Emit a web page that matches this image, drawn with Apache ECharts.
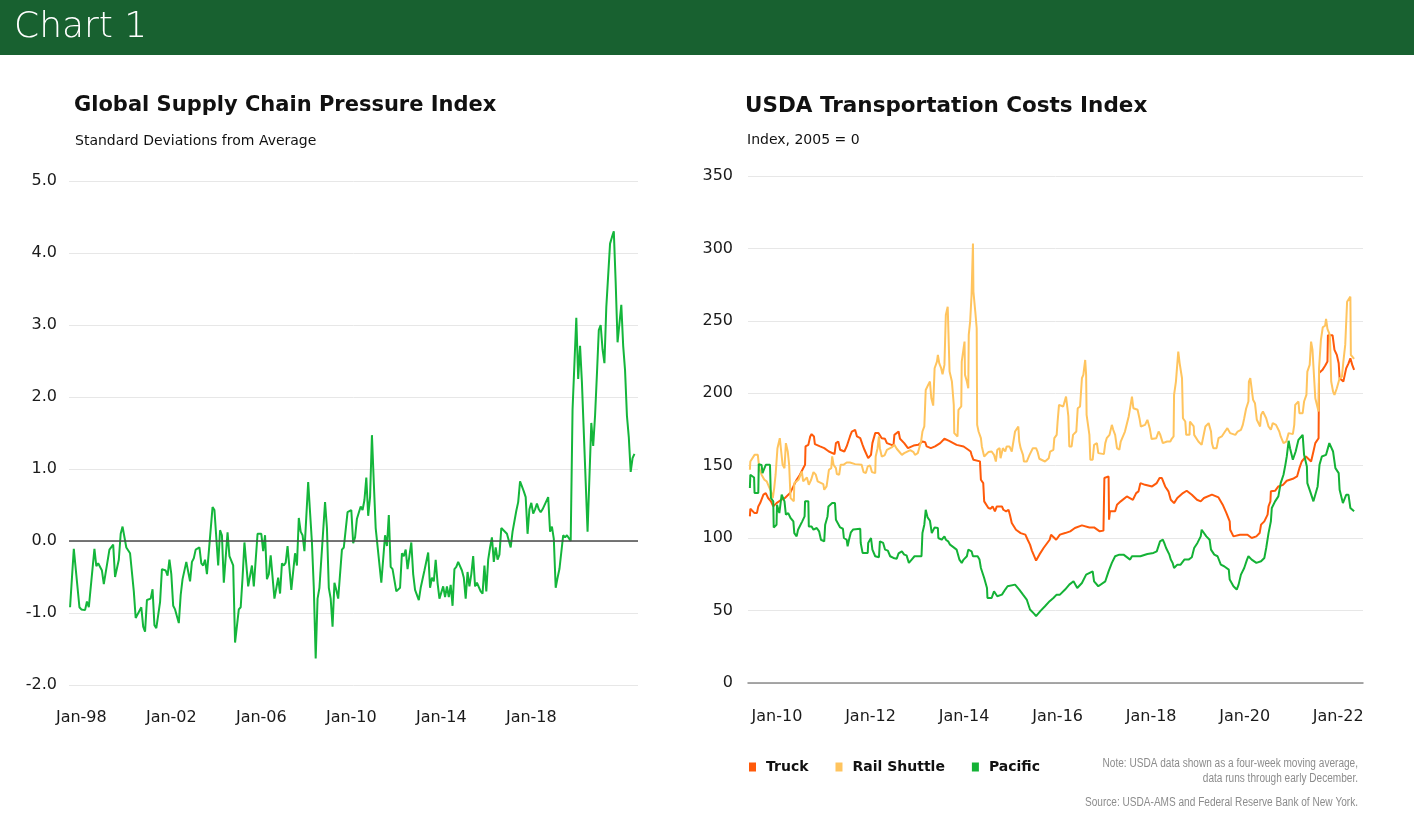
<!DOCTYPE html>
<html>
<head>
<meta charset="utf-8">
<title>Chart 1</title>
<script src="https://cdn.jsdelivr.net/npm/echarts@6/dist/echarts.min.js"></script>
<style>
  html, body { margin: 0; padding: 0; background: #fff; }
  #chart { width: 1414px; height: 813px; }
</style>
</head>
<body>
<div id="chart"></div>
<script>
// Global Supply Chain Pressure Index, monthly (std. deviations from average)
const gscpiDates = [
  "1997-07","1997-09","1997-10","1997-12","1998-01","1998-03","1998-04","1998-05","1998-08","1998-09",
  "1998-10","1998-12","1999-01","1999-04","1999-06","1999-07","1999-09","1999-10","1999-11","2000-01",
  "2000-02","2000-03","2000-05","2000-06","2000-07","2000-09","2000-10","2000-11","2000-12","2001-02",
  "2001-03","2001-04","2001-05","2001-07","2001-08","2001-10","2001-11","2001-12","2002-01","2002-02",
  "2002-03","2002-04","2002-05","2002-06","2002-07","2002-09","2002-11","2002-12","2003-01","2003-02",
  "2003-03","2003-04","2003-05","2003-06","2003-07","2003-08","2003-11","2003-12","2004-02","2004-03",
  "2004-04","2004-05","2004-07","2004-08","2004-10","2004-11","2005-01","2005-02","2005-03","2005-04",
  "2005-05","2005-06","2005-07","2005-08","2005-09","2005-11","2006-01","2006-02","2006-03","2006-04",
  "2006-05","2006-06","2006-08","2006-10","2006-11","2006-12","2007-01","2007-02","2007-03","2007-04",
  "2007-05","2007-07","2007-08","2007-09","2007-10","2007-11","2007-12","2008-02","2008-04","2008-05",
  "2008-06","2008-07","2008-08","2008-09","2008-11","2008-12","2009-01","2009-02","2009-03","2009-04",
  "2009-05","2009-06","2009-08","2009-09","2009-11","2009-12","2010-01","2010-02","2010-03","2010-04",
  "2010-05","2010-06","2010-07","2010-08","2010-09","2010-10","2010-11","2010-12","2011-01","2011-02",
  "2011-03","2011-05","2011-07","2011-08","2011-09","2011-10","2011-11","2012-01","2012-03","2012-04",
  "2012-05","2012-06","2012-07","2012-09","2012-10","2012-11","2013-01","2013-02","2013-03","2013-04",
  "2013-06","2013-07","2013-08","2013-09","2013-10","2013-11","2013-12","2014-02","2014-03","2014-04",
  "2014-05","2014-06","2014-07","2014-08","2014-09","2014-10","2014-12","2015-01","2015-02","2015-03",
  "2015-04","2015-05","2015-06","2015-07","2015-08","2015-10","2015-11","2015-12","2016-01","2016-02",
  "2016-03","2016-04","2016-05","2016-06","2016-07","2016-08","2016-09","2016-10","2016-12","2017-01",
  "2017-02","2017-03","2017-05","2017-06","2017-07","2017-08","2017-09","2017-10","2017-11","2017-12",
  "2018-01","2018-02","2018-03","2018-04","2018-05","2018-06","2018-07","2018-08","2018-10","2018-11",
  "2018-12","2019-01","2019-02","2019-03","2019-04","2019-06","2019-07","2019-08","2019-09","2019-10",
  "2019-11","2020-01","2020-02","2020-03","2020-04","2020-07","2020-09","2020-10","2020-11","2020-12",
  "2021-01","2021-02","2021-03","2021-04","2021-05","2021-06","2021-07","2021-08","2021-09","2021-10",
  "2021-11","2021-12","2022-01","2022-02","2022-03","2022-04","2022-05","2022-06","2022-07","2022-08"
];
const gscpiValues = [
  -0.92,-0.11,-0.13,-0.92,-0.95,-0.96,-0.84,-0.92,-0.11,-0.35,
  -0.31,-0.41,-0.60,-0.12,-0.05,-0.50,-0.26,0.10,0.20,-0.09,
  -0.08,-0.17,-0.70,-1.07,-1.07,-0.92,-1.19,-1.26,-0.82,-0.80,
  -0.67,-1.17,-1.21,-0.85,-0.39,-0.41,-0.48,-0.26,-0.46,-0.90,
  -0.95,-0.97,-1.14,-0.75,-0.53,-0.29,-0.56,-0.29,-0.24,-0.12,
  -0.14,-0.09,-0.31,-0.34,-0.26,-0.46,0.47,0.43,-0.34,0.15,
  0.08,-0.58,0.12,-0.21,-0.34,-1.41,-0.95,-0.92,-0.51,-0.02,
  -0.03,-0.63,-0.65,-0.34,-0.63,0.10,0.10,-0.14,0.08,-0.53,
  -0.46,-0.20,-0.80,-0.51,-0.73,-0.31,-0.34,-0.30,-0.07,-0.09,
  -0.68,-0.17,-0.34,0.32,0.13,0.08,-0.14,0.82,-0.02,-0.65,
  -1.63,-0.80,-0.65,-0.63,0.54,0.18,-0.65,-0.80,-1.19,-0.58,
  -0.68,-0.80,-0.12,-0.09,0.40,0.40,0.43,-0.03,0.05,0.31,
  0.32,0.48,0.43,0.57,0.88,0.35,0.61,1.47,0.81,0.18,
  0.19,-0.58,0.08,-0.07,0.36,-0.36,-0.39,-0.70,-0.65,-0.17,
  -0.21,-0.12,-0.39,-0.02,-0.46,-0.68,-0.82,-0.65,-0.63,-0.41,
  -0.16,-0.65,-0.51,-0.56,-0.26,-0.58,-0.80,-0.63,-0.78,-0.63,
  -0.78,-0.61,-0.90,-0.39,-0.36,-0.29,-0.41,-0.51,-0.80,-0.43,
  -0.63,-0.46,-0.21,-0.63,-0.58,-0.70,-0.73,-0.34,-0.70,-0.26,
  -0.09,0.05,-0.29,-0.09,-0.26,-0.19,0.18,0.18,0.10,0.08,
  -0.09,0.13,0.42,0.54,0.83,0.83,0.69,0.61,0.10,0.44,
  0.53,0.38,0.44,0.52,0.44,0.40,0.44,0.46,0.61,0.13,
  0.20,0.03,-0.65,-0.51,-0.39,0.08,0.05,0.08,0.08,0.00,
  1.83,3.10,2.25,2.71,2.20,0.13,1.64,1.32,1.74,2.32,
  2.93,3.00,2.66,2.47,3.25,3.27,4.13,4.22,4.30,3.59,
  2.76,2.76,3.28,2.71,2.37,1.74,1.44,0.96,1.15,1.21
];
const gscpiTicks = [1998, 2002, 2006, 2010, 2014, 2018];

// USDA transportation cost indices (2005 = 0), dates as decimal years
const truckYears = [
  2009.42,2009.43,2009.47,2009.52,2009.57,2009.60,2009.64,2009.71,2009.76,2009.81,
  2009.87,2009.92,2009.99,2010.09,2010.17,2010.21,2010.28,2010.35,2010.42,2010.49,
  2010.56,2010.60,2010.61,2010.67,2010.71,2010.74,2010.79,2010.81,2010.92,2011.01,
  2011.11,2011.23,2011.26,2011.31,2011.35,2011.44,2011.49,2011.56,2011.60,2011.67,
  2011.71,2011.78,2011.83,2011.87,2011.95,2012.01,2012.04,2012.10,2012.17,2012.24,
  2012.31,2012.35,2012.49,2012.51,2012.60,2012.63,2012.72,2012.80,2012.92,2013.02,
  2013.11,2013.17,2013.20,2013.29,2013.38,2013.49,2013.58,2013.68,2013.84,2013.99,
  2014.09,2014.14,2014.16,2014.20,2014.34,2014.36,2014.41,2014.43,2014.52,2014.57,
  2014.61,2014.66,2014.70,2014.81,2014.84,2014.90,2014.95,2014.98,2015.02,2015.11,
  2015.21,2015.31,2015.36,2015.41,2015.45,2015.54,2015.57,2015.61,2015.70,2015.83,
  2015.86,2015.97,2016.05,2016.16,2016.27,2016.37,2016.52,2016.68,2016.78,2016.90,
  2016.98,2017.00,2017.09,2017.10,2017.12,2017.23,2017.27,2017.35,2017.48,2017.61,
  2017.68,2017.73,2017.77,2017.87,2018.02,2018.12,2018.18,2018.23,2018.30,2018.37,
  2018.42,2018.49,2018.56,2018.68,2018.76,2018.87,2018.98,2019.06,2019.13,2019.30,
  2019.44,2019.48,2019.53,2019.61,2019.68,2019.69,2019.76,2019.90,2020.06,2020.15,
  2020.25,2020.32,2020.35,2020.42,2020.49,2020.51,2020.55,2020.56,2020.65,2020.72,
  2020.82,2020.90,2021.03,2021.12,2021.17,2021.22,2021.31,2021.42,2021.47,2021.51,
  2021.58,2021.59,2021.66,2021.72,2021.77,2021.78,2021.88,2021.92,2021.97,2022.01,
  2022.03,2022.11,2022.15,2022.17,2022.22,2022.26,2022.30,2022.34
];
const truckValues = [
  115.0,120.3,120.3,117.3,117.3,121.9,124.2,130.0,131.1,127.7,
  125.4,121.9,124.2,126.5,127.7,128.8,131.1,135.7,140.3,143.8,
  148.3,150.6,163.3,164.4,170.2,171.8,170.2,164.9,163.3,162.1,
  159.8,158.0,165.6,166.7,161.0,159.8,163.3,170.2,173.6,174.8,
  170.2,169.0,164.4,161.0,155.2,157.5,165.6,172.5,172.5,169.0,
  168.6,165.6,163.9,171.3,173.6,168.6,165.6,162.1,163.9,164.4,
  166.7,166.2,163.3,162.1,163.3,165.6,168.6,167.2,164.4,163.3,
  161.0,159.8,157.5,154.1,153.0,140.3,138.0,125.4,120.8,120.3,
  121.9,118.5,121.9,121.9,119.6,118.5,119.6,116.2,110.4,105.8,
  103.5,102.4,98.9,95.5,91.4,84.5,84.0,88.6,93.2,98.9,
  102.4,98.9,102.4,103.5,104.7,107.0,108.8,107.4,107.4,104.7,
  105.2,141.5,142.6,112.7,118.5,118.5,123.1,125.4,128.8,126.5,
  131.1,132.3,138.0,136.8,135.7,138.0,141.5,141.5,135.7,132.3,
  126.5,124.2,127.7,131.1,132.7,130.0,126.5,125.4,127.7,130.0,
  128.1,127.7,123.1,117.3,111.6,105.8,101.2,102.4,102.4,100.1,
  101.2,103.5,109.3,111.6,116.2,121.9,125.4,132.3,132.7,135.7,
  136.8,139.6,141.0,142.6,148.3,152.9,156.4,152.9,159.8,165.6,
  169.0,214.0,216.0,219.0,222.0,240.0,240.0,230.0,226.5,220.7,
  210.4,208.1,206.9,217.2,220.7,224.2,219.6,216.1
];
const railYears = [
  2009.42,2009.43,2009.47,2009.52,2009.59,2009.62,2009.67,2009.73,2009.78,2009.82,
  2009.87,2009.91,2009.94,2009.97,2010.01,2010.06,2010.10,2010.12,2010.16,2010.19,
  2010.23,2010.26,2010.29,2010.36,2010.37,2010.46,2010.53,2010.56,2010.60,2010.64,
  2010.68,2010.73,2010.78,2010.83,2010.87,2010.99,2011.01,2011.06,2011.08,2011.11,
  2011.16,2011.18,2011.21,2011.26,2011.28,2011.33,2011.36,2011.42,2011.49,2011.56,
  2011.67,2011.81,2011.85,2011.90,2011.94,2011.99,2012.03,2012.10,2012.11,2012.15,
  2012.18,2012.20,2012.24,2012.30,2012.35,2012.45,2012.51,2012.56,2012.61,2012.67,
  2012.72,2012.85,2012.92,2012.95,2013.01,2013.04,2013.08,2013.11,2013.15,2013.17,
  2013.18,2013.24,2013.27,2013.30,2013.34,2013.35,2013.37,2013.42,2013.44,2013.47,
  2013.51,2013.54,2013.58,2013.59,2013.61,2013.65,2013.68,2013.69,2013.74,2013.78,
  2013.79,2013.81,2013.86,2013.88,2013.94,2013.95,2013.99,2014.01,2014.02,2014.06,
  2014.09,2014.10,2014.13,2014.16,2014.19,2014.20,2014.24,2014.27,2014.28,2014.31,
  2014.36,2014.38,2014.41,2014.43,2014.52,2014.59,2014.64,2014.68,2014.71,2014.76,
  2014.78,2014.83,2014.88,2014.91,2014.97,2015.02,2015.09,2015.16,2015.18,2015.21,
  2015.26,2015.28,2015.34,2015.40,2015.47,2015.54,2015.57,2015.61,2015.73,2015.81,
  2015.84,2015.91,2015.93,2015.98,2016.00,2016.03,2016.12,2016.16,2016.18,2016.21,
  2016.23,2016.25,2016.30,2016.33,2016.40,2016.43,2016.48,2016.52,2016.55,2016.59,
  2016.61,2016.62,2016.68,2016.70,2016.75,2016.78,2016.84,2016.87,2016.99,2017.02,
  2017.05,2017.11,2017.16,2017.19,2017.23,2017.27,2017.32,2017.35,2017.39,2017.44,
  2017.48,2017.52,2017.55,2017.59,2017.62,2017.71,2017.75,2017.78,2017.87,2017.92,
  2017.97,2018.01,2018.05,2018.11,2018.16,2018.19,2018.25,2018.34,2018.41,2018.44,
  2018.48,2018.49,2018.53,2018.58,2018.61,2018.66,2018.68,2018.73,2018.75,2018.82,
  2018.83,2018.91,2018.92,2019.01,2019.08,2019.12,2019.16,2019.23,2019.28,2019.30,
  2019.33,2019.40,2019.44,2019.51,2019.58,2019.63,2019.69,2019.80,2019.85,2019.92,
  2019.96,2019.99,2020.03,2020.08,2020.09,2020.12,2020.15,2020.18,2020.22,2020.26,
  2020.33,2020.35,2020.39,2020.46,2020.51,2020.56,2020.60,2020.67,2020.74,2020.77,
  2020.83,2020.89,2020.94,2021.03,2021.06,2021.08,2021.15,2021.17,2021.24,2021.27,
  2021.32,2021.34,2021.39,2021.42,2021.45,2021.47,2021.51,2021.58,2021.59,2021.63,
  2021.67,2021.72,2021.74,2021.77,2021.82,2021.83,2021.85,2021.89,2021.92,2021.97,
  2022.03,2022.08,2022.11,2022.15,2022.19,2022.26,2022.27,2022.29,2022.34
];
const railValues = [
  147.2,152.9,152.9,157.5,157.5,148.3,143.8,140.3,139.2,139.2,
  132.3,127.7,134.6,143.8,162.1,169.0,170.2,150.6,148.3,165.6,
  159.8,150.6,127.7,125.4,138.0,140.3,146.0,139.2,138.0,141.9,
  136.8,140.3,145.6,143.8,139.2,137.3,133.4,135.7,140.3,147.2,
  148.3,156.4,150.6,148.3,144.2,143.8,150.6,150.6,152.2,152.2,
  151.1,150.6,145.6,144.9,149.5,150.2,145.6,144.9,156.4,162.1,
  170.2,162.1,156.4,157.1,161.0,162.6,164.4,161.7,159.8,157.5,
  158.7,160.8,159.4,157.5,158.7,162.1,166.7,173.6,177.1,178.2,
  202.3,206.3,208.1,196.6,191.5,192.0,217.3,221.9,226.5,220.7,
  217.3,213.1,219.6,220.7,254.0,259.8,260.9,215.0,208.1,192.0,
  172.5,171.3,170.2,188.6,190.9,221.9,231.1,235.7,212.7,208.1,
  203.5,240.3,249.5,267.8,303.4,270.2,256.3,244.9,178.2,173.6,
  169.0,163.3,162.1,156.4,159.4,159.8,157.5,152.9,161.0,162.1,
  155.2,162.1,159.8,163.3,163.3,159.8,173.6,177.1,166.7,162.1,
  157.5,152.9,152.9,157.5,162.1,162.1,159.8,154.8,152.9,155.2,
  159.8,161.0,169.0,171.3,180.5,192.0,190.9,189.7,197.7,189.7,
  184.0,163.3,163.3,171.3,173.6,189.7,190.9,210.4,212.7,223.0,
  212.7,185.1,171.3,154.1,154.1,164.4,165.6,158.7,158.0,165.6,
  169.0,171.3,178.2,174.8,171.3,162.1,161.0,166.7,167.9,173.6,
  173.6,184.0,189.7,197.7,189.7,188.6,182.8,177.1,178.2,181.7,
  175.9,168.4,167.9,169.0,173.6,171.8,165.6,166.7,166.7,168.6,
  170.2,198.9,208.1,228.8,220.7,210.4,182.8,180.5,171.3,171.3,
  180.5,177.1,171.3,166.7,164.4,164.4,177.1,179.4,173.6,165.6,
  162.1,162.1,169.0,170.2,173.6,175.9,172.5,171.3,173.6,174.8,
  178.2,182.8,189.3,194.3,208.1,210.4,210.4,195.5,193.2,181.7,
  177.1,185.1,187.4,182.8,177.1,174.8,179.4,178.2,173.6,170.2,
  165.6,166.7,172.5,171.8,178.2,192.0,194.3,186.3,186.3,194.3,
  198.9,215.0,219.6,235.7,229.9,228.8,196.6,187.4,217.3,236.8,
  245.6,246.7,251.3,244.4,240.3,231.1,208.1,201.2,198.9,203.5,
  210.4,211.5,221.9,233.4,263.2,266.7,226.5,225.3,223.7
];
const pacificYears = [
  2009.42,2009.43,2009.51,2009.52,2009.60,2009.61,2009.67,2009.69,2009.73,2009.76,
  2009.85,2009.87,2009.92,2009.93,2009.99,2010.00,2010.03,2010.05,2010.09,2010.10,
  2010.16,2010.19,2010.24,2010.29,2010.35,2010.37,2010.42,2010.45,2010.54,2010.59,
  2010.60,2010.67,2010.68,2010.74,2010.78,2010.85,2010.90,2010.94,2011.01,2011.03,
  2011.08,2011.10,2011.18,2011.24,2011.26,2011.35,2011.41,2011.43,2011.49,2011.51,
  2011.54,2011.58,2011.63,2011.78,2011.79,2011.83,2011.94,2011.95,2012.01,2012.04,
  2012.10,2012.18,2012.20,2012.27,2012.31,2012.37,2012.42,2012.49,2012.56,2012.60,
  2012.67,2012.72,2012.77,2012.82,2012.88,2012.94,2013.09,2013.11,2013.15,2013.18,
  2013.22,2013.27,2013.31,2013.37,2013.44,2013.45,2013.52,2013.58,2013.61,2013.66,
  2013.70,2013.75,2013.84,2013.90,2013.95,2013.99,2014.02,2014.06,2014.09,2014.16,
  2014.19,2014.29,2014.33,2014.36,2014.43,2014.49,2014.50,2014.59,2014.64,2014.71,
  2014.81,2014.88,2014.93,2015.09,2015.18,2015.26,2015.34,2015.41,2015.50,2015.54,
  2015.63,2015.73,2015.83,2015.91,2015.98,2016.05,2016.16,2016.25,2016.34,2016.42,
  2016.52,2016.61,2016.75,2016.78,2016.87,2017.02,2017.09,2017.16,2017.23,2017.32,
  2017.41,2017.55,2017.59,2017.77,2017.92,2018.05,2018.12,2018.16,2018.19,2018.25,
  2018.28,2018.32,2018.39,2018.42,2018.46,2018.49,2018.53,2018.56,2018.63,2018.71,
  2018.80,2018.87,2018.91,2018.92,2018.99,2019.06,2019.08,2019.12,2019.18,2019.25,
  2019.28,2019.35,2019.42,2019.49,2019.56,2019.66,2019.68,2019.76,2019.83,2019.87,
  2019.92,2019.99,2020.05,2020.08,2020.15,2020.25,2020.35,2020.42,2020.46,2020.51,
  2020.56,2020.58,2020.65,2020.72,2020.77,2020.83,2020.87,2020.90,2020.94,2020.97,
  2021.03,2021.09,2021.15,2021.24,2021.27,2021.33,2021.34,2021.40,2021.47,2021.51,
  2021.56,2021.60,2021.65,2021.74,2021.81,2021.89,2021.94,2022.01,2022.03,2022.10,
  2022.13,2022.17,2022.22,2022.26,2022.34
];
const pacificValues = [
  134.6,143.8,141.9,131.1,131.1,151.1,150.6,144.9,144.9,150.6,
  150.6,127.7,125.4,107.4,109.3,123.1,123.1,117.3,117.3,130.0,
  125.4,116.2,117.3,113.9,111.6,103.5,101.2,105.8,111.6,115.0,
  125.4,125.4,108.1,108.1,105.8,107.0,104.7,98.9,97.8,109.3,
  115.0,121.9,124.2,124.2,112.7,107.4,106.5,100.1,98.9,94.3,
  98.9,104.0,106.0,106.5,96.7,89.8,89.8,96.7,100.1,92.1,
  87.5,86.8,97.8,96.7,92.1,91.4,87.5,86.3,85.8,89.5,
  90.9,88.6,88.1,82.9,85.2,87.5,87.5,103.5,109.3,119.6,
  114.3,112.0,103.5,107.4,107.0,100.1,98.9,101.2,98.9,97.8,
  95.5,94.3,92.1,85.2,82.9,85.2,84.0,87.5,92.1,90.9,
  87.5,87.5,85.2,79.4,72.5,65.6,58.7,58.7,63.3,59.9,
  61.0,64.5,66.8,67.9,64.5,61.0,57.6,50.7,47.7,46.1,
  49.6,53.0,56.5,58.7,61.0,61.0,64.5,67.9,70.2,65.6,
  69.0,74.8,77.1,70.2,66.8,70.2,77.1,82.9,87.5,88.6,
  88.6,85.2,87.5,87.5,89.1,89.8,90.9,92.1,97.8,98.9,
  96.7,93.2,88.6,85.2,82.9,79.4,78.3,81.7,81.7,85.2,
  85.2,86.8,87.5,93.2,96.7,101.2,105.8,105.8,101.2,98.9,
  92.1,88.6,87.5,81.7,80.6,78.3,71.4,66.8,64.5,67.9,
  74.8,79.4,85.2,87.5,85.2,82.9,84.0,86.3,93.2,103.5,
  111.6,120.8,125.4,128.8,138.0,143.8,150.6,156.4,167.2,162.1,
  154.1,159.8,167.9,171.3,157.5,149.4,138.0,132.3,125.4,125.4,
  135.7,150.6,156.4,157.5,165.6,159.8,148.3,144.9,133.4,124.2,
  125.4,129.9,129.9,120.8,118.5
];
const usdaTicks = [2010, 2012, 2014, 2016, 2018, 2020, 2022];

const TICK_FONT = "DejaVu Sans";
const gscpiGreen = "#14b63b";
const truckColor = "#ff5a0a";
const railColor = "#ffc45e";
const pacificColor = "#14b236";

function monthToYear(s) {
  return Number(s.slice(0, 4)) + (Number(s.slice(5, 7)) - 1) / 12;
}
function zip(xs, ys) {
  return xs.map((x, i) => [x, ys[i]]);
}
function yearLabel(v) {
  return "Jan-" + String(Math.round(v)).slice(2);
}
// small grey footnote text, squeezed horizontally like the condensed original
function note(text, y) {
  return {
    type: "text", x: 1358, y: y, scaleX: 0.84,
    style: { text: text, fill: "#8c8c8c", font: '12px "Liberation Sans"', textAlign: "right", textVerticalAlign: "middle" },
  };
}

const tickLabel = { fontFamily: TICK_FONT, fontSize: 16, color: "#1a1a1a" };
const gridLine = { lineStyle: { color: "#e7e7e7", width: 1 } };

const chart = echarts.init(document.getElementById("chart"));
chart.setOption({
  animation: false,
  backgroundColor: "#ffffff",
  grid: [
    { left: 69, top: 181, width: 569, height: 504 },
    { left: 748, top: 176, width: 615, height: 507 },
  ],
  xAxis: [
    {
      type: "value",
      gridIndex: 0,
      min: 1997.453,
      max: 2022.742,
      axisLine: { show: false },
      axisTick: { show: false },
      splitLine: { show: false },
      axisLabel: { ...tickLabel, margin: 25, customValues: gscpiTicks, formatter: yearLabel },
    },
    {
      type: "value",
      gridIndex: 1,
      min: 2009.38,
      max: 2022.53,
      axisLine: { show: true, lineStyle: { color: "#8c8c8c", width: 1.5 } },
      axisTick: { show: false },
      splitLine: { show: false },
      axisLabel: { ...tickLabel, margin: 26, customValues: usdaTicks, formatter: yearLabel },
    },
  ],
  yAxis: [
    {
      type: "value",
      gridIndex: 0,
      min: -2,
      max: 5,
      interval: 1,
      axisLine: { show: false },
      axisTick: { show: false },
      splitLine: gridLine,
      axisLabel: { ...tickLabel, margin: 12, formatter: (v) => v.toFixed(1) },
    },
    {
      type: "value",
      gridIndex: 1,
      min: 0,
      max: 350,
      interval: 50,
      axisLine: { show: false },
      axisTick: { show: false },
      splitLine: gridLine,
      axisLabel: { ...tickLabel, margin: 15 },
    },
  ],
  legend: {
    data: ["Truck", "Rail Shuttle", "Pacific"],
    left: 744,
    top: 755,
    icon: "rect",
    itemWidth: 7,
    itemHeight: 9,
    itemGap: 27,
    selectedMode: false,
    textStyle: {
      fontFamily: TICK_FONT,
      fontWeight: "bold",
      fontSize: 14,
      color: "#111",
      padding: [0, 0, 0, 5],
    },
  },
  series: [
    {
      type: "line",
      name: "GSCPI",
      xAxisIndex: 0,
      yAxisIndex: 0,
      data: zip(gscpiDates.map(monthToYear), gscpiValues),
      symbol: "none",
      lineStyle: { color: gscpiGreen, width: 2 },
      itemStyle: { color: gscpiGreen },
      markLine: {
        silent: true,
        symbol: ["none", "none"],
        label: { show: false },
        lineStyle: { color: "#4a4a4a", width: 1.5, type: "solid" },
        data: [{ yAxis: 0 }],
      },
    },
    {
      type: "line",
      name: "Truck",
      xAxisIndex: 1,
      yAxisIndex: 1,
      data: zip(truckYears, truckValues),
      symbol: "none",
      lineStyle: { color: truckColor, width: 2 },
      itemStyle: { color: truckColor },
    },
    {
      type: "line",
      name: "Rail Shuttle",
      xAxisIndex: 1,
      yAxisIndex: 1,
      data: zip(railYears, railValues),
      symbol: "none",
      lineStyle: { color: railColor, width: 2 },
      itemStyle: { color: railColor },
    },
    {
      type: "line",
      name: "Pacific",
      xAxisIndex: 1,
      yAxisIndex: 1,
      data: zip(pacificYears, pacificValues),
      symbol: "none",
      lineStyle: { color: pacificColor, width: 2 },
      itemStyle: { color: pacificColor },
    },
  ],
  graphic: [
    { type: "rect", left: 0, top: 0, shape: { width: 1414, height: 55 }, style: { fill: "#186130" } },
    {
      type: "text", x: 14, y: 28,
      style: { text: "Chart 1", fill: "#ffffff", font: '300 36px "DejaVu Sans"', textVerticalAlign: "middle" },
    },
    {
      type: "text", x: 74, y: 106,
      style: { text: "Global Supply Chain Pressure Index", fill: "#111", font: 'bold 21px "DejaVu Sans"', textVerticalAlign: "middle" },
    },
    {
      type: "text", x: 75, y: 141,
      style: { text: "Standard Deviations from Average", fill: "#111", font: '14px "DejaVu Sans"', textVerticalAlign: "middle" },
    },
    {
      type: "text", x: 745, y: 106,
      style: { text: "USDA Transportation Costs Index", fill: "#111", font: 'bold 21.5px "DejaVu Sans"', textVerticalAlign: "middle" },
    },
    {
      type: "text", x: 747, y: 140,
      style: { text: "Index, 2005 = 0", fill: "#111", font: '14px "DejaVu Sans"', textVerticalAlign: "middle" },
    },
    note("Note: USDA data shown as a four-week moving average,", 764),
    note("data runs through early December.", 779),
    note("Source: USDA-AMS and Federal Reserve Bank of New York.", 803),
  ],
});

window.addEventListener("resize", () => chart.resize());
</script>
</body>
</html>
